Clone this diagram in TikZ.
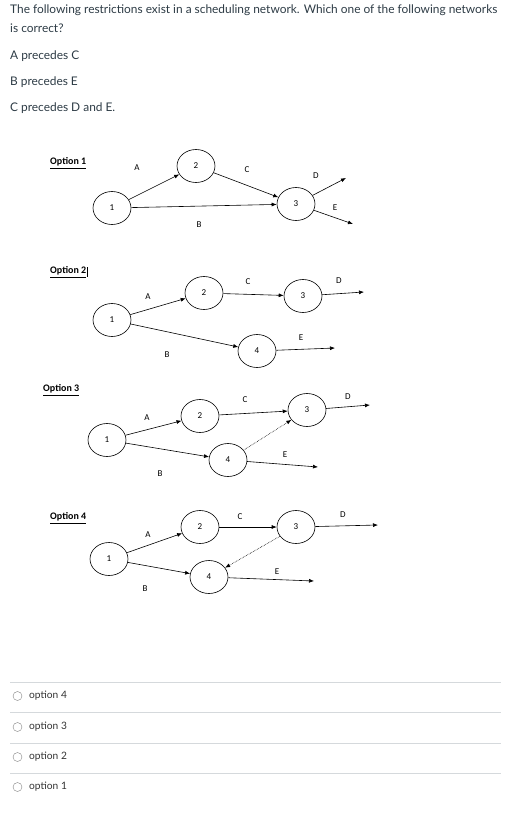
\documentclass[tikz,border=0pt]{standalone}
\usepackage{fontspec}
\setmainfont{Lato}
\newfontfamily\calib{Carlito}
\usetikzlibrary{shapes.geometric,arrows.meta}
\definecolor{qtext}{HTML}{2D3B45}
\definecolor{rulegray}{HTML}{D5D9DC}

\begin{document}
\begin{tikzpicture}[x=1pt,y=-1pt,
  event/.style={draw,line width=0.6pt,ellipse,minimum width=38pt,minimum height=33pt,inner sep=0pt,font=\calib\fontsize{9}{10}\selectfont},
  act/.style={inner sep=0pt,font=\calib\fontsize{9}{10}\selectfont},
  arr/.style={-{Latex[length=5pt,width=4pt]},line width=0.6pt},
  dummy/.style={arr,densely dotted},
  optlabel/.style={anchor=west,inner sep=0pt,font=\calib\fontsize{10}{11}\selectfont\bfseries},
  qline/.style={anchor=west,inner sep=0pt,text=qtext,font=\fontsize{11.9}{14}\selectfont},
  choice/.style={anchor=west,inner sep=0pt,text=black!80,font=\fontsize{10.2}{12}\selectfont},
  radio/.style={draw=black!50,circle,minimum size=9pt,inner sep=0pt}]
\useasboundingbox (0,0) rectangle (511,814);

\node[qline] (q1) at (10,10) {The following restrictions exist in a scheduling network. Which one of the following networks};
\node[qline] (q2) at (10,28) {is correct?};
\node[qline] (r1) at (10,56) {A precedes C};
\node[qline] (r2) at (10,82) {B precedes E};
\node[qline] (r3) at (10,108) {C precedes D and E.};

% option 1
\node[optlabel] (opt1) at (50,163) {\underline{Option 1}};
\node[event] (n11) at (112,208) {1};
\node[event] (n12) at (196,166) {2};
\node[event] (n13) at (296,204) {3};
\coordinate (d1) at (346,178);
\coordinate (e1) at (353,224);
\draw[arr] (n11) -- (n12);
\draw[arr] (n12) -- (n13);
\draw[arr] (n11) -- (n13);
\draw[arr] (n13) -- (d1);
\draw[arr] (n13) -- (e1);
\node[act] (a1) at (137,168) {A};
\node[act] (c1) at (247,170) {C};
\node[act] (b1) at (199,225) {B};
\node[act] (dl1) at (316,176) {D};
\node[act] (el1) at (335,208) {E};

% option 2
\node[optlabel] (opt2) at (50,272) {\underline{Option 2}};
\draw[line width=0.5pt] (opt2.east) ++(1,-5) -- ++(0,10);
\node[event] (n21) at (112,320) {1};
\node[event] (n22) at (204,293) {2};
\node[event] (n23) at (303,296) {3};
\node[event] (n24) at (257,351) {4};
\coordinate (d2) at (364,292);
\coordinate (e2) at (335,348);
\draw[arr] (n21) -- (n22);
\draw[arr] (n22) -- (n23);
\draw[arr] (n21) -- (n24);
\draw[arr] (n23) -- (d2);
\draw[arr] (n24) -- (e2);
\node[act] (a2) at (148,297) {A};
\node[act] (c2) at (248,282) {C};
\node[act] (b2) at (167,355) {B};
\node[act] (dl2) at (339,281) {D};
\node[act] (el2) at (301,338) {E};

% option 3
\node[optlabel] (opt3) at (43,390) {\underline{Option 3}};
\node[event] (n31) at (107,440) {1};
\node[event] (n32) at (200,416) {2};
\node[event] (n33) at (307,410) {3};
\node[event] (n34) at (228,460) {4};
\coordinate (d3) at (370,405);
\coordinate (e3) at (318,467);
\draw[arr] (n31) -- (n32);
\draw[arr] (n32) -- (n33);
\draw[arr] (n31) -- (n34);
\draw[dummy] (n34) -- (n33);
\draw[arr] (n33) -- (d3);
\draw[arr] (n34) -- (e3);
\node[act] (a3) at (147,418) {A};
\node[act] (c3) at (245,400) {C};
\node[act] (b3) at (160,474) {B};
\node[act] (dl3) at (348,397) {D};
\node[act] (el3) at (285,455) {E};

% option 4
\node[optlabel] (opt4) at (50,518) {\underline{Option 4}};
\node[event] (n41) at (109,559) {1};
\node[event] (n42) at (200,527) {2};
\node[event] (n43) at (296,527) {3};
\node[event] (n44) at (209,577) {4};
\coordinate (d4) at (378,525);
\coordinate (e4) at (314,581);
\draw[arr] (n41) -- (n42);
\draw[arr] (n42) -- (n43);
\draw[arr] (n41) -- (n44);
\draw[dummy] (n43) -- (n44);
\draw[arr] (n43) -- (d4);
\draw[arr] (n44) -- (e4);
\node[act] (a4) at (148,535) {A};
\node[act] (c4) at (240,517) {C};
\node[act] (b4) at (145,589) {B};
\node[act] (dl4) at (343,515) {D};
\node[act] (el4) at (277,572) {E};

% answers
\foreach \y in {682,712,743,773}
  \draw[rulegray,line width=0.8pt] (10,\y) -- (501,\y);
\node[radio] (rb4) at (17.5,696) {};
\node[radio] (rb3) at (17.5,727) {};
\node[radio] (rb2) at (17.5,757) {};
\node[radio] (rb1) at (17.5,787) {};
\node[choice] (ch4) at (29,696) {option 4};
\node[choice] (ch3) at (29,727) {option 3};
\node[choice] (ch2) at (29,757) {option 2};
\node[choice] (ch1) at (29,787) {option 1};
\end{tikzpicture}
\end{document}
